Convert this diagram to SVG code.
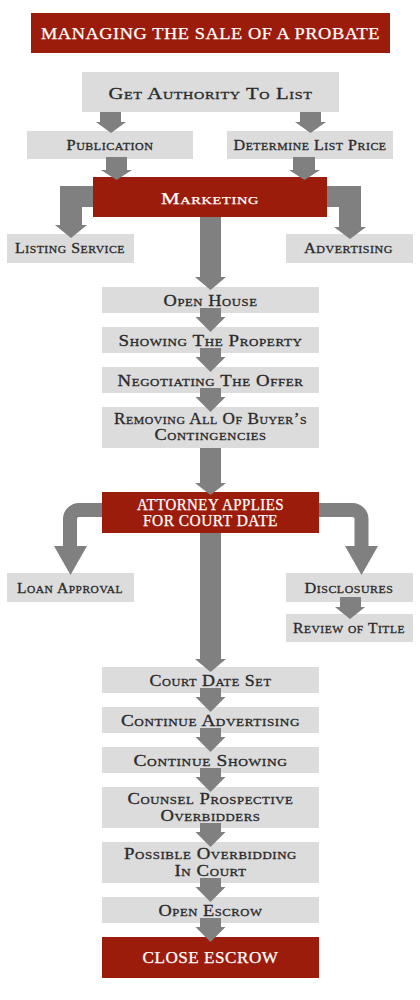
<svg xmlns="http://www.w3.org/2000/svg" width="420" height="1000" viewBox="0 0 420 1000">
<style>
.g{fill:#dcdcdd}
.r{fill:#9c1c0c}
.t{font-family:"Liberation Serif","DejaVu Serif",serif;font-size:16px;fill:#2a2a2a;stroke:#2a2a2a;stroke-width:0.3px;text-anchor:middle;font-variant:small-caps;letter-spacing:0.5px}
.s{font-size:15px}
.w{fill:#ffffff;stroke:#ffffff;stroke-width:0.25px}
.u{font-variant:normal}
.a{fill:#808080}
.k{fill:none;stroke:#808080;stroke-width:14}
</style>
<rect width="420" height="1000" fill="#ffffff"/>
<g id="title"><rect class="r" x="31" y="13" width="359" height="40"/><text class="t w u" x="210.5" y="39" font-size="19" textLength="339" lengthAdjust="spacingAndGlyphs">MANAGING THE SALE OF A PROBATE</text></g>
<g id="n-authority"><rect class="g" x="82" y="72" width="257" height="40"/><text class="t" x="210.5" y="99" font-size="19" textLength="204" lengthAdjust="spacingAndGlyphs">Get Authority To List</text></g>
<g id="n-publication"><rect class="g" x="27" y="131" width="166" height="28"/><text class="t s" x="110" y="150" textLength="87" lengthAdjust="spacingAndGlyphs">Publication</text></g>
<g id="n-price"><rect class="g" x="227" y="131" width="166" height="28"/><text class="t s" x="310" y="150" textLength="153" lengthAdjust="spacingAndGlyphs">Determine List Price</text></g>
<g id="n-marketing"><rect class="r" x="93" y="177" width="234" height="40"/><text class="t w" x="210" y="204" font-size="18" textLength="98" lengthAdjust="spacingAndGlyphs">Marketing</text></g>
<g id="n-listing"><rect class="g" x="7" y="234" width="127" height="29"/><text class="t s" x="70" y="253" textLength="110" lengthAdjust="spacingAndGlyphs">Listing Service</text></g>
<g id="n-advertising"><rect class="g" x="286" y="234" width="127" height="29"/><text class="t s" x="348.5" y="253" textLength="89" lengthAdjust="spacingAndGlyphs">Advertising</text></g>
<g id="n-openhouse"><rect class="g" x="102" y="287" width="217" height="26"/><text class="t" x="210.5" y="306" textLength="94" lengthAdjust="spacingAndGlyphs">Open House</text></g>
<g id="n-showing"><rect class="g" x="102" y="327" width="217" height="26"/><text class="t" x="210.5" y="346" textLength="184" lengthAdjust="spacingAndGlyphs">Showing The Property</text></g>
<g id="n-negotiating"><rect class="g" x="102" y="367" width="217" height="26"/><text class="t" x="210.5" y="386" textLength="186" lengthAdjust="spacingAndGlyphs">Negotiating The Offer</text></g>
<g id="n-removing"><rect class="g" x="102" y="407" width="217" height="41"/><text class="t" x="210.5" y="424" textLength="193" lengthAdjust="spacingAndGlyphs">Removing All Of Buyer’s</text><text class="t" x="210.5" y="440" textLength="112" lengthAdjust="spacingAndGlyphs">Contingencies</text></g>
<g id="n-attorney"><rect class="r" x="102" y="492" width="217" height="41"/><text class="t w u" x="210.5" y="510" textLength="147" lengthAdjust="spacingAndGlyphs">ATTORNEY APPLIES</text><text class="t w u" x="210.5" y="526" textLength="135" lengthAdjust="spacingAndGlyphs">FOR COURT DATE</text></g>
<g id="n-loan"><rect class="g" x="7" y="573" width="127" height="29"/><text class="t s" x="70" y="593" textLength="106" lengthAdjust="spacingAndGlyphs">Loan Approval</text></g>
<g id="n-disclosures"><rect class="g" x="286" y="573" width="127" height="29"/><text class="t s" x="349" y="593" textLength="89" lengthAdjust="spacingAndGlyphs">Disclosures</text></g>
<g id="n-title"><rect class="g" x="286" y="614" width="127" height="28"/><text class="t s" x="349" y="633" textLength="112" lengthAdjust="spacingAndGlyphs">Review of Title</text></g>
<g id="n-courtdate"><rect class="g" x="102" y="667" width="217" height="26"/><text class="t" x="210.5" y="686" textLength="122" lengthAdjust="spacingAndGlyphs">Court Date Set</text></g>
<g id="n-contadv"><rect class="g" x="102" y="707" width="217" height="26"/><text class="t" x="210.5" y="726" textLength="179" lengthAdjust="spacingAndGlyphs">Continue Advertising</text></g>
<g id="n-contshow"><rect class="g" x="102" y="747" width="217" height="26"/><text class="t" x="210.5" y="766" textLength="154" lengthAdjust="spacingAndGlyphs">Continue Showing</text></g>
<g id="n-counsel"><rect class="g" x="102" y="787" width="217" height="41"/><text class="t" x="210.5" y="804" textLength="166" lengthAdjust="spacingAndGlyphs">Counsel Prospective</text><text class="t" x="210.5" y="821" textLength="100" lengthAdjust="spacingAndGlyphs">Overbidders</text></g>
<g id="n-possible"><rect class="g" x="102" y="842" width="217" height="41"/><text class="t" x="210.5" y="859" textLength="173" lengthAdjust="spacingAndGlyphs">Possible Overbidding</text><text class="t" x="210.5" y="876" textLength="72" lengthAdjust="spacingAndGlyphs">In Court</text></g>
<g id="n-openescrow"><rect class="g" x="102" y="897" width="217" height="26"/><text class="t" x="210.5" y="916" textLength="104" lengthAdjust="spacingAndGlyphs">Open Escrow</text></g>
<g id="n-close"><rect class="r" x="102" y="937" width="217" height="41"/><text class="t w u" x="210.5" y="963" font-size="18" textLength="136" lengthAdjust="spacingAndGlyphs">CLOSE ESCROW</text></g>
<g id="connectors">
<path class="a" d="M100 112H121V122H126L111 133L96 122H100Z"/>
<path class="a" d="M300 112H321V122H326L310.5 133L295 122H300Z"/>
<path class="a" d="M106 157H127V170H132L116.5 180L101 170H106Z"/>
<path class="a" d="M293 157H315V170H320L304.5 180L289 170H293Z"/>
<path class="a" d="M93 186H60V225H55L71 238L87 225H82V207H93Z"/>
<path class="a" d="M327 186H361V227H366L350 239L334 227H339V207H327Z"/>
<path class="a" d="M200 217H221V277H226L210.5 290L195 277H200Z"/>
<path class="a" d="M200 308H221V317H225.5L210.5 332L195.5 317H200Z"/>
<path class="a" d="M200 348H221V357H225.5L210.5 372L195.5 357H200Z"/>
<path class="a" d="M200 388H221V397H225.5L210.5 412L195.5 397H200Z"/>
<path class="a" d="M200 448H221V483H226L210.5 495L195 483H200Z"/>
<path class="k" d="M102 510H79A9 9 0 0 0 70 519V547"/>
<path class="a" d="M54 546H87L70.5 575Z"/>
<path class="k" d="M319 510H352.5A9 9 0 0 1 361.5 519V547"/>
<path class="a" d="M345 546H378L361.5 575Z"/>
<path class="a" d="M340 597H361V607H365L350 619L335 607H340Z"/>
<path class="a" d="M200 533H221V659H226L210.5 672L195 659H200Z"/>
<path class="a" d="M200 688H221V697H225.5L210.5 712L195.5 697H200Z"/>
<path class="a" d="M200 728H221V737H225.5L210.5 752L195.5 737H200Z"/>
<path class="a" d="M200 768H221V777H225.5L210.5 792L195.5 777H200Z"/>
<path class="a" d="M200 823H221V832H225.5L210.5 847L195.5 832H200Z"/>
<path class="a" d="M200 878H221V887H225.5L210.5 902L195.5 887H200Z"/>
<path class="a" d="M200 918H221V927H225.5L210.5 942L195.5 927H200Z"/>
</g>
</svg>
